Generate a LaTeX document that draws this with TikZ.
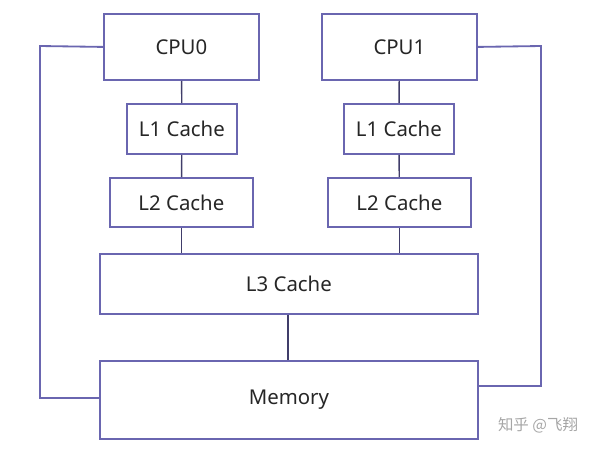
\documentclass[tikz,border=0pt]{standalone}
\usepackage{fontspec}
\setmainfont{Noto Sans}
\newfontfamily\cjk{Noto Sans CJK SC}
\begin{document}
\begin{tikzpicture}[x=0.025cm,y=-0.025cm,
  ln/.style={draw=lc,line width=1.3pt},
  cn/.style={draw=lc!60!black,line width=1pt},
  bx/.style={ln,rectangle,anchor=north west,inner sep=0pt,font=\fontsize{14.5}{17}\selectfont,text=black!85}]
\definecolor{lc}{HTML}{6A66B0}
\useasboundingbox (0,0) rectangle (600,450);
\node[bx,minimum width=155*0.025cm,minimum height=66*0.025cm] (c0) at (103,13) {CPU0};
\node[bx,minimum width=155*0.025cm,minimum height=66*0.025cm] (c1) at (321,13) {CPU1};
\node[bx,minimum width=110*0.025cm,minimum height=50*0.025cm] (a0) at (126,103) {L1 Cache};
\node[bx,minimum width=110*0.025cm,minimum height=50*0.025cm] (a1) at (343,103) {L1 Cache};
\node[bx,minimum width=143*0.025cm,minimum height=49*0.025cm] (b0) at (109,177) {L2 Cache};
\node[bx,minimum width=143*0.025cm,minimum height=49*0.025cm] (b1) at (327,177) {L2 Cache};
\node[bx,minimum width=378*0.025cm,minimum height=60*0.025cm] (l3) at (99,253) {L3 Cache};
\node[bx,minimum width=378*0.025cm,minimum height=78*0.025cm] (m) at (99,360) {Memory};
\draw[cn] (c0) -- (a0) -- (b0);
\draw[cn] (c1) -- (a1) -- (b1);
\draw[cn] (b0.south) -- (b0.south |- l3.north);
\draw[cn] (b1.south) -- (b1.south |- l3.north);
\draw[cn] (l3.south -| 288,0) -- (m.north -| 288,0);
\draw[ln] (c0.west) -- (40,46) -- (40,398) -- (m.west |- 0,398);
\draw[ln] (c1.east) -- (541,46) -- (541,386) -- (m.east |- 0,386);
\node[text=black!35,font=\cjk\fontsize{11}{13}\selectfont] (w) at (538,425) {知乎 @飞翔};
\end{tikzpicture}
\end{document}
